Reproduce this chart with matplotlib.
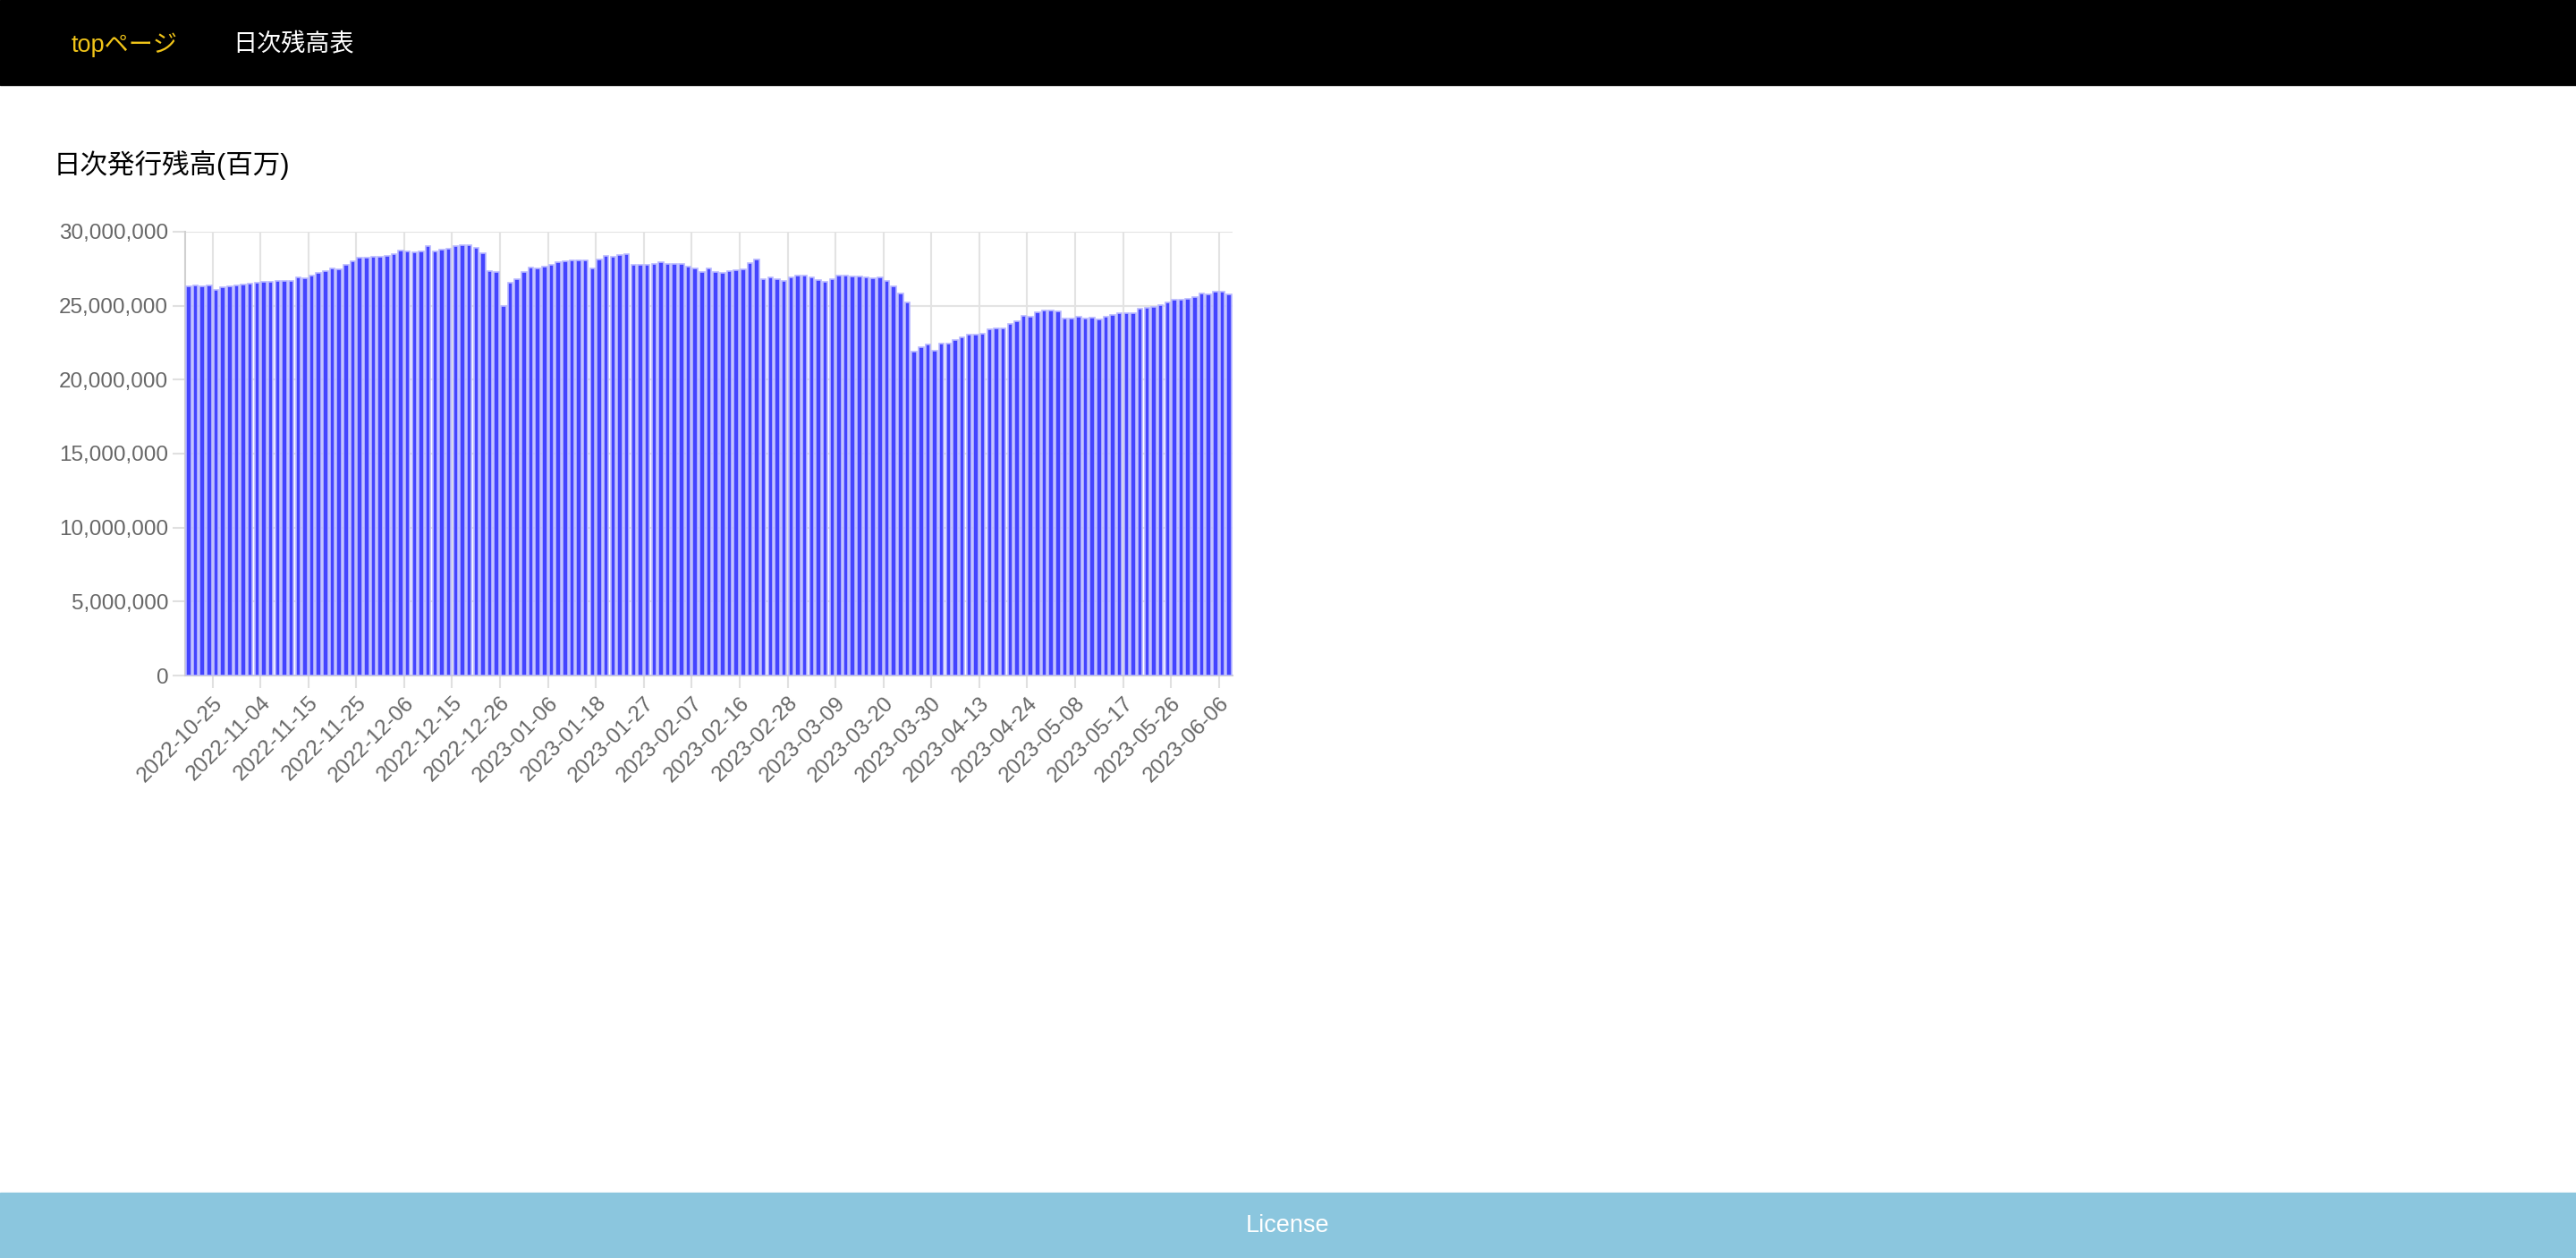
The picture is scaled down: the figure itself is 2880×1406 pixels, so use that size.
import matplotlib
matplotlib.use("Agg")
import matplotlib.pyplot as plt
from matplotlib.ticker import FuncFormatter
import numpy as np

values_m = [
26.33,26.39,26.33,26.37,26.08,26.27,26.33,26.35,26.41,26.47,26.55,26.59,26.59,26.69,26.67,26.67,
26.89,26.87,27.01,27.23,27.35,27.49,27.47,27.75,27.99,28.25,28.27,28.33,28.29,28.39,28.47,28.71,
28.67,28.63,28.69,29.04,28.65,28.78,28.88,29.04,29.12,29.12,28.90,28.53,27.33,27.25,24.98,26.55,
26.79,27.25,27.57,27.53,27.63,27.77,27.97,28.01,28.05,28.05,28.05,27.49,28.15,28.37,28.29,28.41,
28.47,27.77,27.79,27.79,27.85,27.95,27.81,27.85,27.85,27.63,27.55,27.25,27.51,27.25,27.21,27.33,
27.39,27.45,27.91,28.15,26.77,26.89,26.81,26.67,26.93,27.01,27.01,26.89,26.71,26.63,26.79,27.03,
27.03,26.97,26.95,26.93,26.85,26.91,26.67,26.31,25.80,25.22,21.91,22.21,22.37,21.97,22.43,22.41,
22.69,22.89,23.07,23.07,23.11,23.43,23.47,23.47,23.78,23.96,24.32,24.26,24.56,24.66,24.66,24.62,
24.14,24.12,24.24,24.14,24.18,24.10,24.26,24.40,24.48,24.50,24.52,24.82,24.88,24.90,25.04,25.22,
25.40,25.42,25.46,25.58,25.80,25.76,25.94,25.92,25.78]
values = [v * 1e6 for v in values_m]

tick_labels = ["2022-10-25","2022-11-04","2022-11-15","2022-11-25","2022-12-06","2022-12-15",
"2022-12-26","2023-01-06","2023-01-18","2023-01-27","2023-02-07","2023-02-16","2023-02-28",
"2023-03-09","2023-03-20","2023-03-30","2023-04-13","2023-04-24","2023-05-08","2023-05-17",
"2023-05-26","2023-06-06"]
first_label_index = 4
label_step = 7

FONT = ["Liberation Sans", "Noto Sans CJK JP", "DejaVu Sans"]
plt.rcParams["font.family"] = FONT

W, H = 2880, 1406
fig = plt.figure(figsize=(W/100, H/100), dpi=100)
fig.patch.set_facecolor("white")

# header
fig.patches.append(plt.Rectangle((0, 1-95/H), 1, 95/H, transform=fig.transFigure, color="black", zorder=0))
fig.text(80/W, 1-50/H, "topページ", color="#f0c419", fontsize=19.5, va="center")
fig.text(260/W, 1-50/H, "日次残高表", color="white", fontsize=19.5, va="center")
# footer
fig.patches.append(plt.Rectangle((0, 0), 1, 73/H, transform=fig.transFigure, color="#8bc6de", zorder=0))
fig.text(0.5, 36/H, "License", color="white", fontsize=19.5, ha="center", va="center")
# title
fig.text(60/W, 1-185/H, "日次発行残高(百万)", color="black", fontsize=22, va="center")

ax = fig.add_axes([207/W, 1-755/H, (1378-207)/W, (755-259)/H])
x = np.arange(len(values))
ax.bar(x, values, width=0.72, color="#4444ff", edgecolor="#b8b8ff", linewidth=1.2, zorder=3)
ax.set_xlim(-0.5, len(values)-0.5)
ax.set_ylim(0, 30e6)
ax.set_yticks(np.arange(0, 30e6+1, 5e6))
ax.yaxis.set_major_formatter(FuncFormatter(lambda v, p: f"{int(v):,}"))
pos = [first_label_index + label_step*k - 0.5 for k in range(len(tick_labels))]
ax.set_xticks(pos)
ax.set_xticklabels(tick_labels, rotation=45, ha="right", rotation_mode="anchor")
ax.grid(True, color="#e3e3e3", linewidth=1.5, zorder=0)
ax.set_axisbelow(True)
ax.tick_params(axis="both", colors="#e0e0e0", labelcolor="#666666", labelsize=17.5, length=10, width=1.5)
ax.tick_params(axis="x", pad=4)
for s in ["top", "right"]:
    ax.spines[s].set_visible(False)
for s in ["left", "bottom"]:
    ax.spines[s].set_color("#d0d0d0")
    ax.spines[s].set_linewidth(1.5)

fig.savefig("out.png", dpi=100)
